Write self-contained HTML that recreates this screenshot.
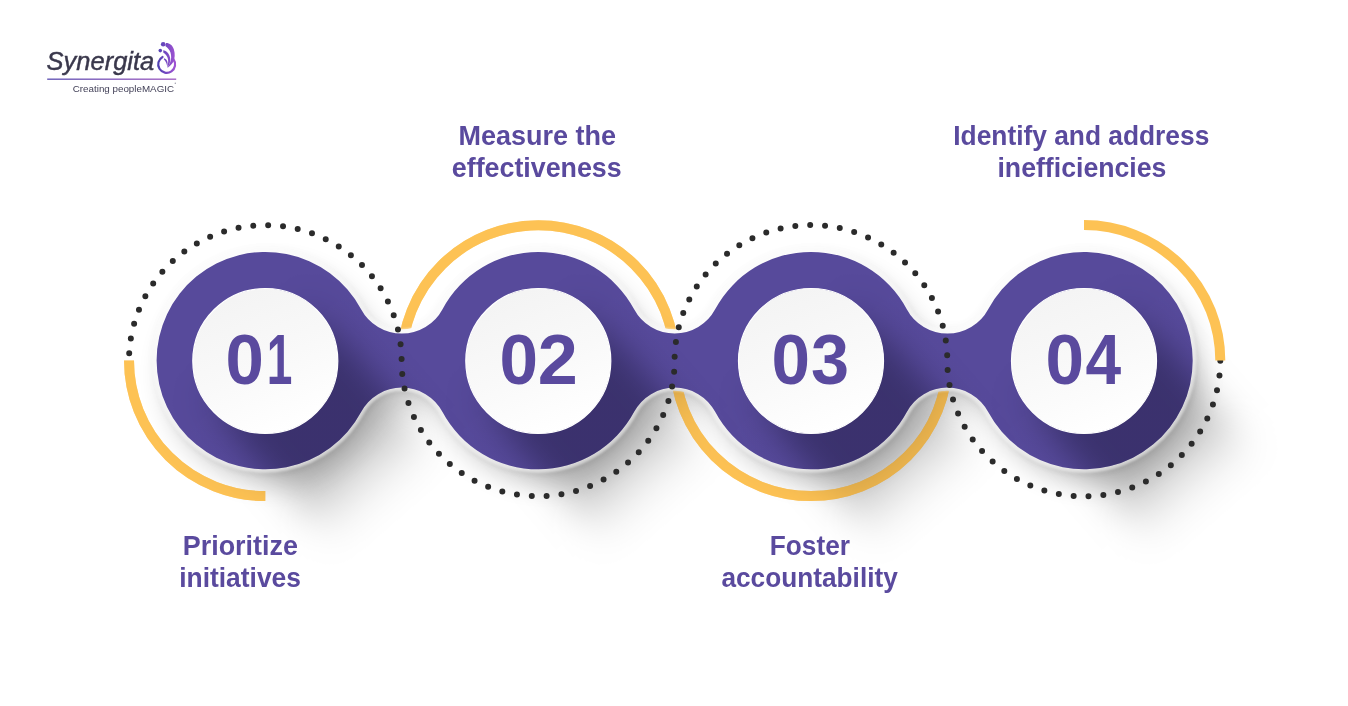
<!DOCTYPE html>
<html><head><meta charset="utf-8"><title>Synergita</title>
<style>
html,body{margin:0;padding:0;background:#fff;}
body{width:1348px;height:706px;overflow:hidden;font-family:"Liberation Sans",sans-serif;}
svg{display:block}
text{font-family:"Liberation Sans",sans-serif;}
</style></head><body>
<svg width="1348" height="706" viewBox="0 0 1348 706" style="opacity:0.999">
<defs>
<path id="blob" d="M361.10,309.24 A46.18,46.18 0 0 0 442.50,309.24 A108.7,108.7 0 0 1 634.15,309.33 A45.93,45.93 0 0 0 715.15,309.33 A108.7,108.7 0 0 1 906.80,309.24 A46.18,46.18 0 0 0 988.20,309.24 A108.7,108.7 0 1 1 988.20,411.96 A46.18,46.18 0 0 0 906.80,411.96 A108.7,108.7 0 0 1 715.15,411.87 A45.93,45.93 0 0 0 634.15,411.87 A108.7,108.7 0 0 1 442.50,411.96 A46.18,46.18 0 0 0 361.10,411.96 A108.7,108.7 0 1 1 361.10,309.24Z"/>
<mask id="ymask" maskUnits="userSpaceOnUse" x="0" y="0" width="1348" height="706"><rect width="1348" height="706" fill="#fff"/><use href="#blob" transform="translate(-0.4,-0.6)" fill="#000" stroke="#000" stroke-width="7.4"/></mask>
<clipPath id="blobclip"><use href="#blob"/></clipPath>
<filter id="rimb" x="-5%" y="-10%" width="110%" height="120%"><feGaussianBlur stdDeviation="0.8"/></filter>
<filter id="sh0" x="-10%" y="-30%" width="125%" height="180%"><feGaussianBlur stdDeviation="7"/></filter>
<filter id="sha" x="-10%" y="-30%" width="125%" height="180%"><feGaussianBlur stdDeviation="4"/></filter>
<filter id="shb" x="-10%" y="-30%" width="125%" height="180%"><feGaussianBlur stdDeviation="13"/></filter>
<linearGradient id="band" x1="0" y1="0" x2="0" y2="1"><stop offset="0.0000" stop-color="#0b0920" stop-opacity="0.0005"/><stop offset="0.0357" stop-color="#0b0920" stop-opacity="0.0025"/><stop offset="0.0714" stop-color="#0b0920" stop-opacity="0.0100"/><stop offset="0.1071" stop-color="#0b0920" stop-opacity="0.0303"/><stop offset="0.1429" stop-color="#0b0920" stop-opacity="0.0724"/><stop offset="0.1786" stop-color="#0b0920" stop-opacity="0.1384"/><stop offset="0.2143" stop-color="#0b0920" stop-opacity="0.2164"/><stop offset="0.2500" stop-color="#0b0920" stop-opacity="0.2861"/><stop offset="0.2857" stop-color="#0b0920" stop-opacity="0.3333"/><stop offset="0.3214" stop-color="#0b0920" stop-opacity="0.3573"/><stop offset="0.3571" stop-color="#0b0920" stop-opacity="0.3666"/><stop offset="0.3929" stop-color="#0b0920" stop-opacity="0.3693"/><stop offset="0.4286" stop-color="#0b0920" stop-opacity="0.3699"/><stop offset="0.4643" stop-color="#0b0920" stop-opacity="0.3700"/><stop offset="0.5000" stop-color="#0b0920" stop-opacity="0.3700"/><stop offset="0.5357" stop-color="#0b0920" stop-opacity="0.3700"/><stop offset="0.5714" stop-color="#0b0920" stop-opacity="0.3699"/><stop offset="0.6071" stop-color="#0b0920" stop-opacity="0.3693"/><stop offset="0.6429" stop-color="#0b0920" stop-opacity="0.3666"/><stop offset="0.6786" stop-color="#0b0920" stop-opacity="0.3573"/><stop offset="0.7143" stop-color="#0b0920" stop-opacity="0.3333"/><stop offset="0.7500" stop-color="#0b0920" stop-opacity="0.2861"/><stop offset="0.7857" stop-color="#0b0920" stop-opacity="0.2164"/><stop offset="0.8214" stop-color="#0b0920" stop-opacity="0.1384"/><stop offset="0.8571" stop-color="#0b0920" stop-opacity="0.0724"/><stop offset="0.8929" stop-color="#0b0920" stop-opacity="0.0303"/><stop offset="0.9286" stop-color="#0b0920" stop-opacity="0.0100"/><stop offset="0.9643" stop-color="#0b0920" stop-opacity="0.0025"/><stop offset="1.0000" stop-color="#0b0920" stop-opacity="0.0005"/></linearGradient>
<linearGradient id="oband" x1="0" y1="0" x2="0" y2="1"><stop offset="0.0000" stop-color="#000000" stop-opacity="0.0003"/><stop offset="0.0357" stop-color="#000000" stop-opacity="0.0013"/><stop offset="0.0714" stop-color="#000000" stop-opacity="0.0049"/><stop offset="0.1071" stop-color="#000000" stop-opacity="0.0144"/><stop offset="0.1429" stop-color="#000000" stop-opacity="0.0342"/><stop offset="0.1786" stop-color="#000000" stop-opacity="0.0663"/><stop offset="0.2143" stop-color="#000000" stop-opacity="0.1066"/><stop offset="0.2500" stop-color="#000000" stop-opacity="0.1459"/><stop offset="0.2857" stop-color="#000000" stop-opacity="0.1757"/><stop offset="0.3214" stop-color="#000000" stop-opacity="0.1932"/><stop offset="0.3571" stop-color="#000000" stop-opacity="0.2012"/><stop offset="0.3929" stop-color="#000000" stop-opacity="0.2040"/><stop offset="0.4286" stop-color="#000000" stop-opacity="0.2048"/><stop offset="0.4643" stop-color="#000000" stop-opacity="0.2050"/><stop offset="0.5000" stop-color="#000000" stop-opacity="0.2050"/><stop offset="0.5357" stop-color="#000000" stop-opacity="0.2050"/><stop offset="0.5714" stop-color="#000000" stop-opacity="0.2048"/><stop offset="0.6071" stop-color="#000000" stop-opacity="0.2040"/><stop offset="0.6429" stop-color="#000000" stop-opacity="0.2012"/><stop offset="0.6786" stop-color="#000000" stop-opacity="0.1932"/><stop offset="0.7143" stop-color="#000000" stop-opacity="0.1757"/><stop offset="0.7500" stop-color="#000000" stop-opacity="0.1459"/><stop offset="0.7857" stop-color="#000000" stop-opacity="0.1066"/><stop offset="0.8214" stop-color="#000000" stop-opacity="0.0663"/><stop offset="0.8571" stop-color="#000000" stop-opacity="0.0342"/><stop offset="0.8929" stop-color="#000000" stop-opacity="0.0144"/><stop offset="0.9286" stop-color="#000000" stop-opacity="0.0049"/><stop offset="0.9643" stop-color="#000000" stop-opacity="0.0013"/><stop offset="1.0000" stop-color="#000000" stop-opacity="0.0003"/></linearGradient>
<linearGradient id="ialong" x1="0" y1="0" x2="1" y2="0"><stop offset="0.0000" stop-color="rgb(0,0,0)"/><stop offset="0.0517" stop-color="rgb(10,10,10)"/><stop offset="0.1034" stop-color="rgb(41,41,41)"/><stop offset="0.1552" stop-color="rgb(97,97,97)"/><stop offset="0.2069" stop-color="rgb(158,158,158)"/><stop offset="0.2586" stop-color="rgb(214,214,214)"/><stop offset="0.3103" stop-color="rgb(245,245,245)"/><stop offset="0.3621" stop-color="rgb(255,255,255)"/><stop offset="0.5517" stop-color="rgb(255,255,255)"/><stop offset="0.6207" stop-color="rgb(217,217,217)"/><stop offset="0.6897" stop-color="rgb(153,153,153)"/><stop offset="0.7759" stop-color="rgb(76,76,76)"/><stop offset="0.8621" stop-color="rgb(31,31,31)"/><stop offset="0.9483" stop-color="rgb(8,8,8)"/><stop offset="1.0000" stop-color="rgb(0,0,0)"/></linearGradient>
<linearGradient id="oalong" x1="0" y1="0" x2="1" y2="0"><stop offset="0.0000" stop-color="rgb(0,0,0)"/><stop offset="0.0517" stop-color="rgb(10,10,10)"/><stop offset="0.1034" stop-color="rgb(41,41,41)"/><stop offset="0.1552" stop-color="rgb(97,97,97)"/><stop offset="0.2069" stop-color="rgb(158,158,158)"/><stop offset="0.2586" stop-color="rgb(214,214,214)"/><stop offset="0.3103" stop-color="rgb(245,245,245)"/><stop offset="0.3621" stop-color="rgb(255,255,255)"/><stop offset="0.5793" stop-color="rgb(255,255,255)"/><stop offset="0.6138" stop-color="rgb(237,237,237)"/><stop offset="0.6483" stop-color="rgb(204,204,204)"/><stop offset="0.6828" stop-color="rgb(158,158,158)"/><stop offset="0.7172" stop-color="rgb(112,112,112)"/><stop offset="0.7517" stop-color="rgb(74,74,74)"/><stop offset="0.7862" stop-color="rgb(43,43,43)"/><stop offset="0.8207" stop-color="rgb(23,23,23)"/><stop offset="0.8552" stop-color="rgb(10,10,10)"/><stop offset="0.8966" stop-color="rgb(0,0,0)"/><stop offset="1.0000" stop-color="rgb(0,0,0)"/></linearGradient>
<mask id="imask" maskUnits="userSpaceOnUse" x="-50" y="-120" width="290" height="240"><rect x="-50" y="-120" width="290" height="240" fill="url(#ialong)"/></mask>
<mask id="omask" maskUnits="userSpaceOnUse" x="-50" y="-121" width="290" height="242"><rect x="-50" y="-121" width="290" height="242" fill="url(#oalong)"/></mask>
<linearGradient id="inner" x1="0.2" y1="0" x2="0.6" y2="1">
<stop offset="0" stop-color="#f3f3f3"/>
<stop offset="0.55" stop-color="#f9f9f9"/>
<stop offset="1" stop-color="#ffffff"/>
</linearGradient>
<linearGradient id="lg" x1="0" y1="0" x2="1" y2="0">
<stop offset="0" stop-color="#6558b5"/><stop offset="1" stop-color="#a463c4"/>
</linearGradient>
<linearGradient id="ig" gradientUnits="userSpaceOnUse" x1="157" y1="60" x2="177" y2="60">
<stop offset="0" stop-color="#4a3fb0"/><stop offset="1" stop-color="#a855d6"/>
</linearGradient>
</defs>
<rect width="1348" height="706" fill="#ffffff"/>

<g fill="none" stroke="#fdc254" stroke-width="10" mask="url(#ymask)">
<path d="M129.00,360.60 A136.3,135.5 0 0 0 265.30,496.10"/>
<path d="M402.00,360.60 A136.3,135.5 0 0 1 674.60,360.60"/>
<path d="M674.70,360.60 A136.3,135.5 0 0 0 947.30,360.60"/>
</g>
<g>
<use href="#blob" fill="#000" opacity="0.045" filter="url(#sh0)"/>
<use href="#blob" transform="translate(2,3)" fill="#000" opacity="0.1" filter="url(#sha)"/>
<use href="#blob" transform="translate(7,14)" fill="#000" opacity="0.19" filter="url(#shb)"/>
<g transform="translate(265.3,360.6) rotate(49)"><rect x="-50" y="-121" width="290" height="242" fill="url(#oband)" mask="url(#omask)"/></g>
<g transform="translate(538.3,360.6) rotate(49)"><rect x="-50" y="-121" width="290" height="242" fill="url(#oband)" mask="url(#omask)"/></g>
<g transform="translate(811.0,360.6) rotate(49)"><rect x="-50" y="-121" width="290" height="242" fill="url(#oband)" mask="url(#omask)"/></g>
<g transform="translate(1084.0,360.6) rotate(49)"><rect x="-50" y="-121" width="290" height="242" fill="url(#oband)" mask="url(#omask)"/></g>
</g>
<g fill="none" stroke="#fdc254" stroke-width="10" opacity="0.5" mask="url(#ymask)"><path d="M129.00,360.60 A136.3,135.5 0 0 0 265.30,496.10"/><path d="M402.00,360.60 A136.3,135.5 0 0 1 674.60,360.60"/><path d="M674.70,360.60 A136.3,135.5 0 0 0 947.30,360.60"/></g>
<use href="#blob" transform="translate(-0.4,-0.6)" fill="#ffffff" stroke="#ffffff" stroke-width="8" stroke-opacity="0.55" filter="url(#rimb)"/>
<use href="#blob" fill="#574a9b"/>
<g clip-path="url(#blobclip)">
<g transform="translate(265.3,360.6) rotate(49)"><rect x="-50" y="-120" width="290" height="240" fill="url(#band)" mask="url(#imask)"/></g>
<g transform="translate(538.3,360.6) rotate(49)"><rect x="-50" y="-120" width="290" height="240" fill="url(#band)" mask="url(#imask)"/></g>
<g transform="translate(811.0,360.6) rotate(49)"><rect x="-50" y="-120" width="290" height="240" fill="url(#band)" mask="url(#imask)"/></g>
<g transform="translate(1084.0,360.6) rotate(49)"><rect x="-50" y="-120" width="290" height="240" fill="url(#band)" mask="url(#imask)"/></g>
</g>
<circle cx="265.3" cy="361.0" r="72.5" fill="url(#inner)" stroke="#ffffff" stroke-width="1.2"/>
<circle cx="538.3" cy="361.0" r="72.5" fill="url(#inner)" stroke="#ffffff" stroke-width="1.2"/>
<circle cx="811.0" cy="361.0" r="72.5" fill="url(#inner)" stroke="#ffffff" stroke-width="1.2"/>
<circle cx="1084.0" cy="361.0" r="72.5" fill="url(#inner)" stroke="#ffffff" stroke-width="1.2"/>
<text x="225.55" y="383.9" font-size="69.8" font-weight="700" font-style="normal" fill="#5a4a9e" textLength="38.35" lengthAdjust="spacingAndGlyphs">0</text>
<text x="266.69" y="383.9" font-size="69.8" font-weight="700" font-style="normal" fill="#5a4a9e" textLength="25.64" lengthAdjust="spacingAndGlyphs">1</text>
<text x="499.57" y="383.9" font-size="69.8" font-weight="700" font-style="normal" fill="#5a4a9e" textLength="38.54" lengthAdjust="spacingAndGlyphs">0</text>
<text x="537.89" y="383.9" font-size="69.8" font-weight="700" font-style="normal" fill="#5a4a9e" textLength="40.03" lengthAdjust="spacingAndGlyphs">2</text>
<text x="771.57" y="383.9" font-size="69.8" font-weight="700" font-style="normal" fill="#5a4a9e" textLength="38.54" lengthAdjust="spacingAndGlyphs">0</text>
<text x="811.02" y="383.9" font-size="69.8" font-weight="700" font-style="normal" fill="#5a4a9e" textLength="38.03" lengthAdjust="spacingAndGlyphs">3</text>
<text x="1045.57" y="383.9" font-size="69.8" font-weight="700" font-style="normal" fill="#5a4a9e" textLength="38.54" lengthAdjust="spacingAndGlyphs">0</text>
<text x="1085.38" y="383.9" font-size="69.8" font-weight="700" font-style="normal" fill="#5a4a9e" textLength="35.65" lengthAdjust="spacingAndGlyphs">4</text>
<path d="M129.00,360.6 A136.3,135.5 0 0 1 401.60,360.6 A136.3,135.5 0 0 0 674.60,360.6 A136.3,135.5 0 0 1 947.30,360.6 A136.3,135.5 0 0 0 1220.30,360.6 A136.3,135.5 0 0 0 1220.00,351.6" fill="none" stroke="#2b2b2b" stroke-width="6" stroke-linecap="round" stroke-dasharray="0 14.92" stroke-dashoffset="-7.4"/>
<path d="M1084.00,225.10 A136.3,135.5 0 0 1 1220.30,360.60" fill="none" stroke="#fdc254" stroke-width="10"/>
<text x="182.82" y="555.1" font-size="27.2" font-weight="700" font-style="normal" fill="#5a4a9e" textLength="115.09" lengthAdjust="spacingAndGlyphs">Prioritize</text>
<text x="179.21" y="587.2" font-size="27.2" font-weight="700" font-style="normal" fill="#5a4a9e" textLength="121.77" lengthAdjust="spacingAndGlyphs">initiatives</text>
<text x="458.44" y="145.1" font-size="27.2" font-weight="700" font-style="normal" fill="#5a4a9e" textLength="157.55" lengthAdjust="spacingAndGlyphs">Measure the</text>
<text x="451.82" y="177.2" font-size="27.2" font-weight="700" font-style="normal" fill="#5a4a9e" textLength="169.88" lengthAdjust="spacingAndGlyphs">effectiveness</text>
<text x="769.79" y="555.1" font-size="27.2" font-weight="700" font-style="normal" fill="#5a4a9e" textLength="80.17" lengthAdjust="spacingAndGlyphs">Foster</text>
<text x="721.43" y="587.2" font-size="27.2" font-weight="700" font-style="normal" fill="#5a4a9e" textLength="176.38" lengthAdjust="spacingAndGlyphs">accountability</text>
<text x="953.27" y="145.2" font-size="27.2" font-weight="700" font-style="normal" fill="#5a4a9e" textLength="256.02" lengthAdjust="spacingAndGlyphs">Identify and address</text>
<text x="997.45" y="177.4" font-size="27.2" font-weight="700" font-style="normal" fill="#5a4a9e" textLength="168.98" lengthAdjust="spacingAndGlyphs">inefficiencies</text>
<g>
<text x="46.62" y="69.8" font-size="26" font-weight="400" font-style="italic" fill="#3a384c" stroke="#3a384c" stroke-width="0.45" textLength="107.62" lengthAdjust="spacingAndGlyphs">Synergita</text>
<rect x="47.2" y="78.5" width="129" height="1.4" fill="url(#lg)"/>
<text x="72.79" y="92.0" font-size="9.3" font-weight="400" font-style="normal" fill="#434158" textLength="101.28" lengthAdjust="spacingAndGlyphs">Creating peopleMAGIC</text>
<circle cx="175.3" cy="83.2" r="0.7" fill="#9a98a8"/>
<g fill="url(#ig)" stroke="none">
<circle cx="163.2" cy="44.2" r="2.3"/>
<circle cx="160.3" cy="50.6" r="1.8"/>
<path d="M166.0,43.0 C169.5,42.9 172.6,45.2 173.9,49.5 C175.2,53.8 175.0,58.6 173.2,62.0 C171.8,64.6 169.6,66.4 167.3,67.9 C168.6,65.6 170.2,63.2 170.9,60.0 C171.6,56.6 171.0,53.0 169.6,50.5 C168.4,48.4 167.0,47.0 165.3,45.9 Z"/>
<path d="M163.2,50.2 C165.8,50.3 168.0,52.4 169.3,55.2 C170.6,58.0 170.6,61.0 169.6,63.4 C169.0,64.9 168.2,66.2 167.3,67.6 C167.7,65.8 168.2,63.4 168.2,61.0 C168.1,58.6 167.4,56.6 166.2,55.2 C165.4,54.2 164.5,53.5 163.4,52.8 Z"/>
<path d="M164.1,58.2 C165.5,58.5 166.7,59.7 167.3,61.4 C167.9,63.2 167.7,65.2 167.3,67.0 C167.0,65.6 166.9,64.4 166.3,63.0 C165.7,61.6 164.9,60.4 163.8,59.2 Z"/>
</g>
<path d="M162.55,56.96 A8.45,8.45 0 1 0 173.4,59.26" fill="none" stroke="url(#ig)" stroke-width="2.2" stroke-linecap="round"/>
</g>
</svg></body></html>
